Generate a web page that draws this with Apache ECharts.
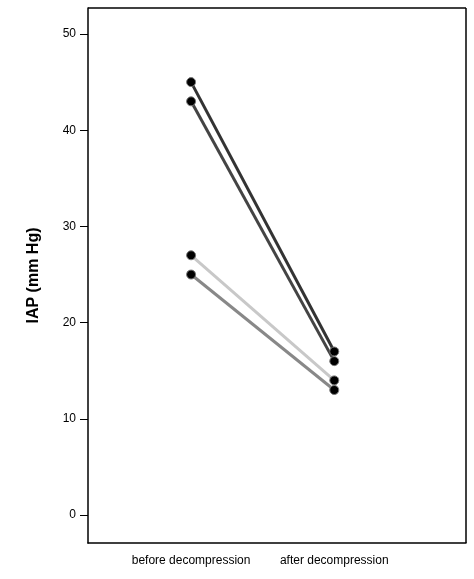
<!DOCTYPE html>
<html><head><meta charset="utf-8">
<script src="https://cdn.jsdelivr.net/npm/echarts@6/dist/echarts.min.js"></script>
<style>html,body{margin:0;padding:0;background:#fff}#c{width:474px;height:579px}</style>
</head><body><div id="c"></div>
<script>
const categories = ['before decompression', 'after decompression'];
const patient1 = [45, 17];
const patient2 = [43, 16];
const patient3 = [27, 14];
const patient4 = [25, 13];
const yTicks = [0, 10, 20, 30, 40, 50];
const colors = ['#333333', '#444444', '#c8c8c8', '#888888'];
const sets = [patient1, patient2, patient3, patient4];
const chart = echarts.init(document.getElementById('c'));
chart.setOption({
  animation: false,
  grid: {left: 88, right: 8, top: 8, bottom: 36},
  xAxis: {type: 'value', min: 0.28, max: 2.92,
    axisLine: {lineStyle: {color: '#000', width: 1.5}, onZero: false},
    axisTick: {show: false}, splitLine: {show: false},
    axisLabel: {color: '#000', fontFamily: 'Liberation Sans', fontSize: 12, margin: 12,
      customValues: [1, 2],
      formatter: v => categories[Math.round(v) - 1] || ''}},
  yAxis: {type: 'value', min: -2.9, max: 52.7, name: 'IAP (mm Hg)', nameLocation: 'middle', nameGap: 46,
    nameTextStyle: {fontSize: 16, fontWeight: 'bold', color: '#000', fontFamily: 'Liberation Sans'},
    axisLine: {show: true, lineStyle: {color: '#000', width: 1.5}},
    axisTick: {show: true, length: 8, lineStyle: {color: '#000'}, customValues: yTicks},
    axisLabel: {color: '#000', fontFamily: 'Liberation Sans', fontSize: 12, margin: 12, customValues: yTicks},
    splitLine: {show: false}},
  series: sets.map((d, k) => ({
    type: 'line', data: d.map((v, i) => [i + 1, v]),
    lineStyle: {color: colors[k], width: 3}, symbol: 'circle', symbolSize: 9,
    itemStyle: {color: '#000', borderColor: '#777', borderWidth: 1}, z: 10 - k
  })).concat([{type: 'line', data: [], markLine: {silent: true, symbol: 'none', label: {show: false},
    lineStyle: {color: '#000', width: 1.5, type: 'solid'},
    data: [[{coord: [0.28, 52.7]}, {coord: [2.92, 52.7]}], [{coord: [2.92, 52.7]}, {coord: [2.92, -2.9]}]]}}])
});
</script></body></html>
